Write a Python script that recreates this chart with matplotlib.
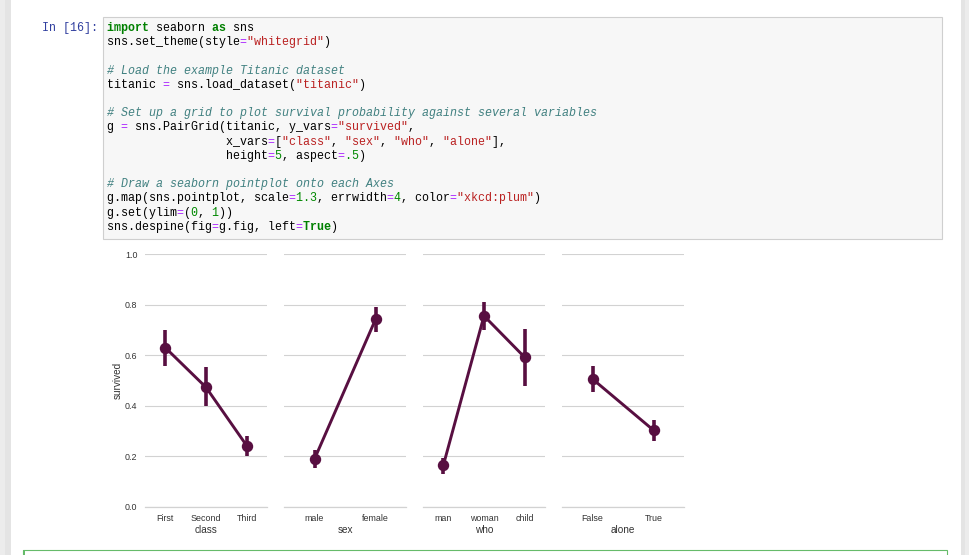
import matplotlib
matplotlib.use("Agg")
import matplotlib.pyplot as plt
from matplotlib.patches import Rectangle

# ---------------- data ----------------
class_cats = ["First", "Second", "Third"]
class_mean = [0.630, 0.473, 0.242]
class_lo = [0.557, 0.399, 0.201]
class_hi = [0.700, 0.552, 0.281]

sex_cats = ["male", "female"]
sex_mean = [0.189, 0.742]
sex_lo = [0.155, 0.693]
sex_hi = [0.225, 0.792]

who_cats = ["man", "woman", "child"]
who_mean = [0.164, 0.756, 0.592]
who_lo = [0.128, 0.700, 0.478]
who_hi = [0.192, 0.812, 0.703]

alone_cats = ["False", "True"]
alone_mean = [0.506, 0.303]
alone_lo = [0.453, 0.260]
alone_hi = [0.557, 0.343]

x_names = ["class", "sex", "who", "alone"]
y_name = "survived"
y_ticks = [0.0, 0.2, 0.4, 0.6, 0.8, 1.0]

code_lines = [
    [("import", "kw"), (" seaborn ", ""), ("as", "kw"), (" sns", "")],
    [("sns.set_theme(style", ""), ("=", "op"), ('"whitegrid"', "str"), (")", "")],
    [],
    [("# Load the example Titanic dataset", "com")],
    [("titanic ", ""), ("=", "op"), (" sns.load_dataset(", ""), ('"titanic"', "str"), (")", "")],
    [],
    [("# Set up a grid to plot survival probability against several variables", "com")],
    [("g ", ""), ("=", "op"), (" sns.PairGrid(titanic, y_vars", ""), ("=", "op"), ('"survived"', "str"), (",", "")],
    [("                 x_vars", ""), ("=", "op"), ("[", ""), ('"class"', "str"), (", ", ""), ('"sex"', "str"),
     (", ", ""), ('"who"', "str"), (", ", ""), ('"alone"', "str"), ("],", "")],
    [("                 height", ""), ("=", "op"), ("5", "num"), (", aspect", ""), ("=", "op"), (".5", "num"), (")", "")],
    [],
    [("# Draw a seaborn pointplot onto each Axes", "com")],
    [("g.map(sns.pointplot, scale", ""), ("=", "op"), ("1.3", "num"), (", errwidth", ""), ("=", "op"), ("4", "num"),
     (", color", ""), ("=", "op"), ('"xkcd:plum"', "str"), (")", "")],
    [("g.set(ylim", ""), ("=", "op"), ("(", ""), ("0", "num"), (", ", ""), ("1", "num"), ("))", "")],
    [("sns.despine(fig", ""), ("=", "op"), ("g.fig, left", ""), ("=", "op"), ("True", "kw"), (")", "")],
]

panels = [
    (class_cats, class_mean, class_lo, class_hi),
    (sex_cats, sex_mean, sex_lo, sex_hi),
    (who_cats, who_mean, who_lo, who_hi),
    (alone_cats, alone_mean, alone_lo, alone_hi),
]

# ---------------- figure ----------------
W, H = 970, 555
fig = plt.figure(figsize=(W / 100, H / 100), dpi=100)
fig.patch.set_facecolor("white")


def fx(x):
    return x / W


def fy(y):
    return 1 - y / H


def rect(x0, y0, x1, y1, **kw):
    fig.patches.append(Rectangle((fx(x0), fy(y1)), fx(x1) - fx(x0), fy(y0) - fy(y1),
                                 transform=fig.transFigure, **kw))


# side strips
rect(0, 0, 10.7, H, facecolor="#e4e4e4", edgecolor="none")
rect(0, 0, 5, H, facecolor="#ececec", edgecolor="none")
rect(960.7, 0, W, H, facecolor="#e4e4e4", edgecolor="none")
rect(965.5, 0, W, H, facecolor="#ececec", edgecolor="none")

# code cell box
rect(103, 16.5, 942.5, 239, facecolor="#f7f7f7", edgecolor="#cfcfcf", linewidth=0.8)

# next (selected) cell outline
rect(23, 550, 947, 560, facecolor="white", edgecolor="#66bb6a", linewidth=0.8)
rect(23, 549.5, 25.5, H, facecolor="#66bb6a", edgecolor="none")

# prompt
mono = "Liberation Mono"
fig.text(fx(42), fy(28), "In [16]:", family=mono, fontsize=8.4, color="#303f9f", va="center", ha="left")

styles = {
    "": dict(color="#000000"),
    "kw": dict(color="#008000", fontweight="bold"),
    "str": dict(color="#ba2121"),
    "op": dict(color="#aa22ff"),
    "num": dict(color="#008800"),
    "com": dict(color="#408080", fontstyle="italic"),
}
x0 = 107
for i, segs in enumerate(code_lines):
    if not segs:
        continue
    y = 28 + 14.2 * i
    full = "".join(t for t, _ in segs)
    # one layer per style; characters of other styles are blanked out so all
    # layers share the same monospaced grid
    for st in styles:
        layer = "".join(t if s == st else " " * len(t) for t, s in segs)
        if not layer.strip():
            continue
        fig.text(fx(x0), fy(y), "\u00a0" + layer if False else layer, family=mono, fontsize=8.4,
                 va="center", ha="left", **styles[st])

# ---------------- chart ----------------
plum = "xkcd:plum"
ax_lefts = [145, 284, 423, 562]
ax_w = 122
top_px, bot_px = 254.3, 506.7
sans = "Liberation Sans"
txt_col = "#333333"

for k, (cats, mean, lo, hi) in enumerate(panels):
    ax = fig.add_axes([fx(ax_lefts[k]), fy(bot_px), ax_w / W, (bot_px - top_px) / H])
    ax.set_facecolor("none")
    xs = list(range(len(cats)))
    for xi, l, h in zip(xs, lo, hi):
        ax.plot([xi, xi], [l, h], color=plum, lw=2.6, solid_capstyle="butt", zorder=2)
    ax.plot(xs, mean, color=plum, lw=2.1, marker="o", ms=7.2, zorder=3)
    ax.set_xlim(-0.5, len(cats) - 0.5)
    ax.set_ylim(0, 1)
    ax.set_xticks(xs)
    ax.set_xticklabels(cats, family=sans, fontsize=6.4, color=txt_col)
    ax.set_yticks(y_ticks)
    ax.yaxis.grid(True, color="#d2d2d2", lw=0.8)
    ax.xaxis.grid(False)
    ax.set_axisbelow(True)
    for s in ["top", "right", "left"]:
        ax.spines[s].set_visible(False)
    ax.spines["bottom"].set_color("#d2d2d2")
    ax.spines["bottom"].set_linewidth(0.9)
    ax.tick_params(length=0, pad=5.0)
    ax.set_xlabel(x_names[k], family=sans, fontsize=7.2, color=txt_col, labelpad=1.8)
    if k == 0:
        ax.set_yticklabels([f"{v:.1f}" for v in y_ticks], family=sans, fontsize=6.4, color=txt_col)
        ax.tick_params(axis="y", pad=5.5)
        ax.set_ylabel(y_name, family=sans, fontsize=7.2, color=txt_col, labelpad=1.5)
    else:
        ax.set_yticklabels([])

fig.savefig("out.png", dpi=100)
